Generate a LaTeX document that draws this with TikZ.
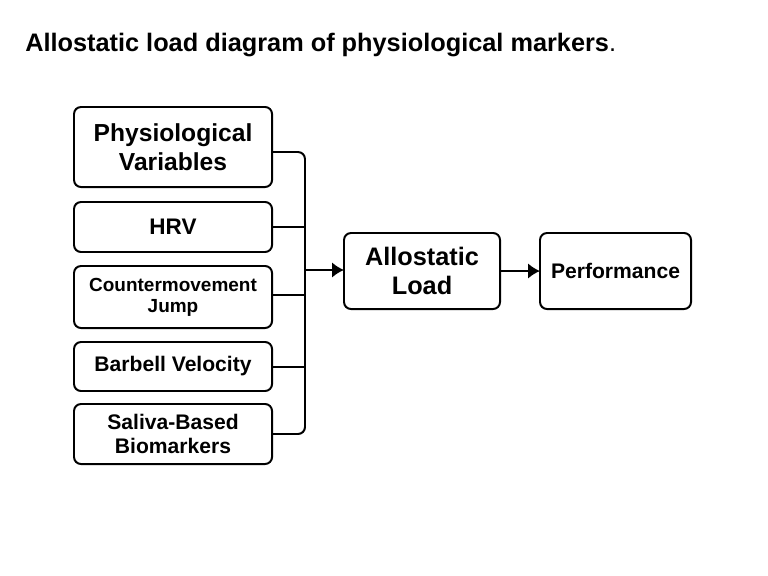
\documentclass[tikz,border=0pt]{standalone}
\usepackage{fontspec}
\setmainfont{Liberation Sans}
\usetikzlibrary{positioning,arrows.meta}

\tikzset{
  box/.style={rectangle, draw, line width=1.4pt, rounded corners=5pt, align=center, inner sep=1pt, outer sep=0pt, minimum width=4.95cm, anchor=north west, font=\bfseries},
  link/.style={line width=1.4pt},
  arrowlink/.style={line width=1.4pt, -{Latex[length=8.5pt,width=11pt]}}
}

\begin{document}
\begin{tikzpicture}[x=0.025cm, y=-0.025cm]
\useasboundingbox (0,0) rectangle (768,576);

\node (title) [anchor=base west, font=\fontsize{18}{21}\selectfont, inner sep=0pt] at (25,52) {\textbf{Allostatic load diagram of physiological markers}.};

% input markers
\node (phys) [box, minimum height=2cm, font=\bfseries\fontsize{17.5}{21}\selectfont] at (74,107) {Physiological\\Variables};
\node (hrv) [box, minimum height=1.25cm, font=\bfseries\fontsize{16}{19}\selectfont] at (74,202) {HRV};
\node (cmj) [box, minimum height=1.55cm, font=\bfseries\fontsize{13.5}{15}\selectfont] at (74,266) {Countermovement\\Jump};
\node (barbell) [box, minimum height=1.225cm, font=\bfseries\fontsize{15}{18}\selectfont] at (74,342) {Barbell Velocity};
\node (saliva) [box, minimum height=1.5cm, font=\bfseries\fontsize{15}{17.7}\selectfont] at (74,404) {Saliva-Based\\Biomarkers};

% outcome
\node (allo) [box, minimum width=3.9cm, minimum height=1.9cm, font=\bfseries\fontsize{18}{21}\selectfont] at (344,233) {Allostatic\\Load};
\node (perf) [box, minimum width=3.775cm, minimum height=1.9cm, font=\bfseries\fontsize{15}{18}\selectfont] at (540,233) {Performance};

% bus
\coordinate (busmid) at (305,270);
\draw[link, rounded corners=5pt] ([yshift=-0.125cm]phys.east) -| (busmid) |- (saliva.east);
\draw[link] (hrv.east) -- (hrv.east -| busmid);
\draw[link] ([yshift=0.05cm]cmj.east) -- ([yshift=0.05cm]cmj.east -| busmid);
\draw[link] ([yshift=-0.0125cm]barbell.east) -- ([yshift=-0.0125cm]barbell.east -| busmid);

\draw[arrowlink] (busmid) -- (allo.west |- busmid);
\draw[arrowlink] (allo.east) -- (perf.west);
\end{tikzpicture}
\end{document}
